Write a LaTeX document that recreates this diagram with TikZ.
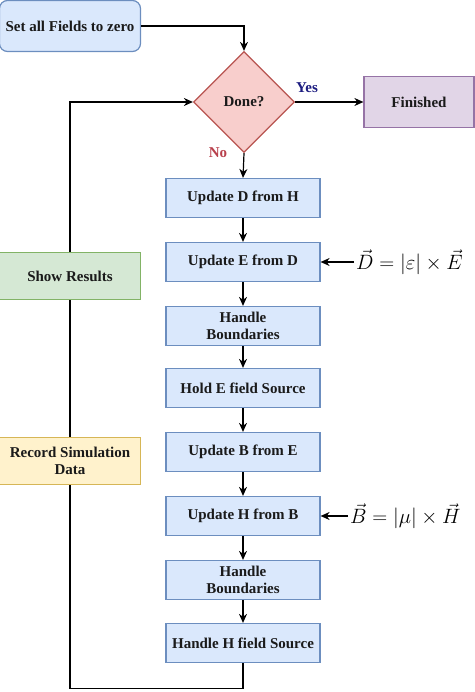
\documentclass[tikz,border=0pt]{standalone}
\usepackage{amsmath}
\usepackage{fontspec}
\setmainfont{Liberation Serif}
\usetikzlibrary{shapes.geometric,arrows.meta}
\definecolor{blueFill}{HTML}{DAE8FC}
\definecolor{blueLine}{HTML}{6C8EBF}
\definecolor{redFill}{HTML}{F8CECC}
\definecolor{redLine}{HTML}{B85450}
\definecolor{violetFill}{HTML}{E1D5E7}
\definecolor{violetLine}{HTML}{9673A6}
\definecolor{greenFill}{HTML}{D5E8D4}
\definecolor{greenLine}{HTML}{82B366}
\definecolor{yellowFill}{HTML}{FFF2CC}
\definecolor{yellowLine}{HTML}{D6B656}
\definecolor{yesText}{HTML}{1C1C80}
\definecolor{noText}{HTML}{B8404C}
\definecolor{inkText}{HTML}{1A1A1A}

\begin{document}
\begin{tikzpicture}[x=1pt, y=-1pt,
    box/.style={draw, line width=1.2pt, align=center, inner sep=0pt, text=inkText,
        font=\bfseries\fontsize{15}{17}\selectfont},
    block/.style={box, draw=blueLine, fill=blueFill, minimum width=154pt, minimum height=39pt},
    side/.style={box, minimum width=141pt, minimum height=47pt},
    arr/.style={-{Stealth[length=9pt, width=8pt]}, line width=1.2pt},
    eq/.style={font=\fontsize{20}{22}\selectfont, inner sep=2pt}]
    \useasboundingbox (0,0) rectangle (474,692);

    % Start, decision and end
    \node[box, draw=blueLine, fill=blueFill, rounded corners=8pt, minimum width=141pt, minimum height=51pt] (start) at (70,26) {Set all Fields to zero};
    \node[box, diamond, draw=redLine, fill=redFill, minimum width=101pt, minimum height=101pt] (done) at (244,102) {Done?};
    \node[box, draw=violetLine, fill=violetFill, minimum width=110pt, minimum height=51pt] (fin) at (419,102) {Finished};

    % Update steps
    \node[block] (b1) at (243,198) {Update D from H};
    \node[block] (b2) at (243,262) {Update E from D};
    \node[block] (b3) at (243,326) {Handle\\Boundaries};
    \node[block] (b4) at (243,388) {Hold E field Source};
    \node[block] (b5) at (243,452) {Update B from E};
    \node[block] (b6) at (243,516) {Update H from B};
    \node[block] (b7) at (243,580) {Handle\\Boundaries};
    \node[block] (b8) at (243,643) {Handle H field Source};

    % Output boxes on the loop
    \node[side, draw=greenLine, fill=greenFill] (show) at (70,276) {Show Results};
    \node[side, draw=yellowLine, fill=yellowFill] (rec) at (70,461) {Record Simulation\\Data};

    % Material relations
    \node[eq, anchor=west] (eqD) at (354,262) {$\vec{D} = |\varepsilon| \times \vec{E}$};
    \node[eq, anchor=west] (eqB) at (348,516) {$\vec{B} = |\mu| \times \vec{H}$};

    \draw[arr] (start.east) -| (done.north);
    \draw[arr] (done.east) -- (fin.west);
    \node[font=\bfseries\fontsize{15}{17}\selectfont, text=yesText] (yes) at (307,88) {Yes};
    \node[font=\bfseries\fontsize{15}{17}\selectfont, text=noText] (no) at (218,153) {No};
    \draw[arr] (done.south) -- (b1.north);
    \foreach \a/\b in {b1/b2, b2/b3, b3/b4, b4/b5, b5/b6, b6/b7, b7/b8}
        \draw[arr] (\a.south) -- (\b.north);

    \draw[arr] (eqD.west) -- (b2.east);
    \draw[arr] (eqB.west) -- (b6.east);

    % Loop back to the decision
    \draw[line width=1.2pt] (b8.south) --++ (0,25) -| (rec.south);
    \draw[line width=1.2pt] (rec.north) -- (show.south);
    \draw[arr] (show.north) |- (done.west);
\end{tikzpicture}
\end{document}
